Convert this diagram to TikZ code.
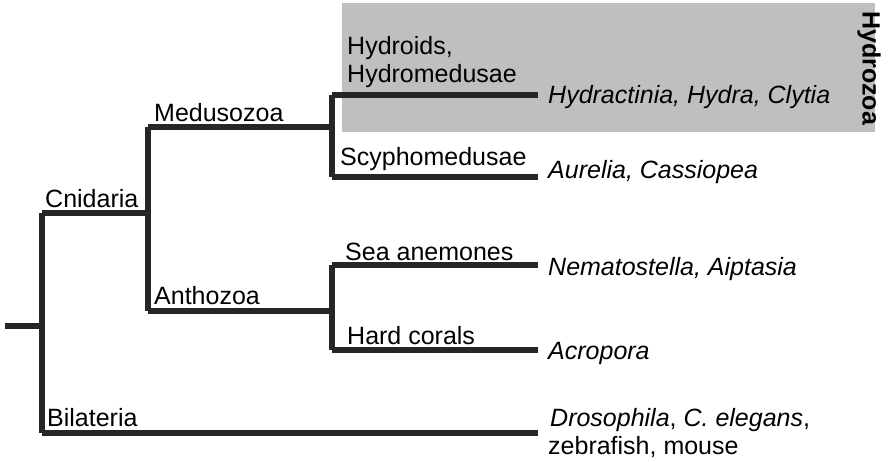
\documentclass[tikz,border=0pt]{standalone}
\usepackage{fontspec}
\setmainfont{Liberation Sans}
\begin{document}
\begin{tikzpicture}[x=1pt,y=-1pt,
  br/.style={line width=5.5pt,color=black!85},
  lbl/.style={anchor=base west,inner sep=0pt,font=\fontsize{25}{30}\selectfont},
  sp/.style={lbl,font=\fontsize{25}{30}\selectfont\itshape}]
\useasboundingbox (0,0) rectangle (892,461);
\fill[black!25] (342,3) rectangle (875,132);
\node[rotate=-90,font=\fontsize{25}{30}\selectfont\bfseries,inner sep=0pt] (hz) at (869,68) {Hydrozoa};
% tree
\coordinate (r0) at (5,326);
\coordinate (r1) at (42,326);
\draw[br] (r0) -- (r1);
\draw[br] (42,213) -- (42,433);
\draw[br] (42,213) -- (148,213);
\draw[br] (148,127) -- (148,311);
\draw[br] (148,127) -- (332,127);
\draw[br] (332,95) -- (332,177);
\draw[br] (332,95) -- (538,95);
\draw[br] (332,177) -- (538,177);
\draw[br] (148,311) -- (332,311);
\draw[br] (332,265) -- (332,350);
\draw[br] (332,265) -- (538,265);
\draw[br] (332,350) -- (538,350);
\draw[br] (42,433) -- (538,433);
% labels
\node[lbl] (cn) at (45,207) {Cnidaria};
\node[lbl] (me) at (154,121) {Medusozoa};
\node[lbl] (an) at (154,304) {Anthozoa};
\node[lbl] (bi) at (47,426) {Bilateria};
\node[lbl] (h1) at (347,54) {Hydroids,};
\node[lbl] (h2) at (347,82) {Hydromedusae};
\node[lbl] (sc) at (340,165) {Scyphomedusae};
\node[lbl] (sa) at (345,260) {Sea anemones};
\node[lbl] (hc) at (347,344) {Hard corals};
\node[sp] (s1) at (548,103) {Hydractinia, Hydra, Clytia};
\node[sp] (s2) at (548,178) {Aurelia, Cassiopea};
\node[sp] (s3) at (548,275) {Nematostella, Aiptasia};
\node[sp] (s4) at (548,359) {Acropora};
\node[lbl] (s5) at (550,426) {\itshape Drosophila\upshape, \itshape C. elegans\upshape,};
\node[lbl] (s6) at (548,454) {zebrafish, mouse};
\end{tikzpicture}
\end{document}
